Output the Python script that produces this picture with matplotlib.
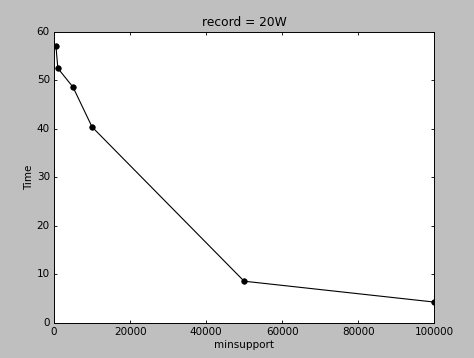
import numpy as np
import matplotlib
matplotlib.use("Agg")
import matplotlib.pyplot as plt

plt.style.use('classic')

# minsupport vs running time, 20W records
minsupport=[500,1000,5000,10000,50000,100000]
timeVals=[57.1,52.5,48.6,40.4,8.6,4.3]

fig=plt.figure(figsize=(4.74,3.58),dpi=100,facecolor='#bfbfbf')
ax=fig.add_axes([0.114,0.098,0.802,0.813])
ax.plot(minsupport,timeVals,'k-o',markersize=4,linewidth=0.8)
ax.set_xlim(0,100000)
ax.set_ylim(0,60)
ax.set_xticks([0,20000,40000,60000,80000,100000])
ax.set_yticks([0,10,20,30,40,50,60])
ax.tick_params(labelsize=7.5,length=2.5,pad=3,width=0.6)
for s in ax.spines.values():
    s.set_linewidth(0.7)
ax.set_xlabel('minsupport',fontsize=7.5,labelpad=2)
ax.set_ylabel('Time',fontsize=7.5,labelpad=2)
ax.set_title('record = 20W',fontsize=8.8,pad=4)
fig.savefig('out.png',dpi=100,facecolor=fig.get_facecolor())
